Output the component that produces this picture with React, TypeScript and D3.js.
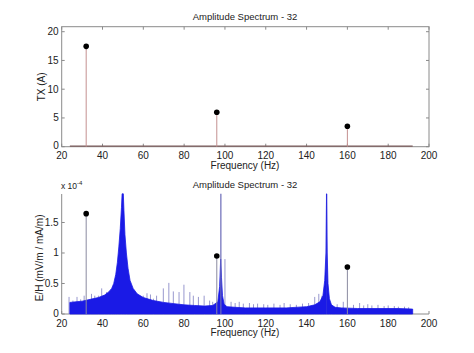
import React from "react";
import * as d3 from "d3";

const W = 474;
const H = 353;

const xTicks = [20, 40, 60, 80, 100, 120, 140, 160, 180, 200];
const txTicks = [0, 5, 10, 15, 20];
const ehTicks = [0, 0.5, 1, 1.5];
const ehTickLabels = ["0", "0.5", "1", "1.5"];

// Top: transmitter current stems
const txFreq = [32, 96, 160];
const txAmp = [17.45, 6.0, 3.55];

// Bottom: E/H ratio at transmitted frequencies (x 1e-4)
const ehFreq = [32, 96, 160];
const ehAmp = [1.645, 0.95, 0.77];

// Dense noise spectrum: envelope of the blue band (x 1e-4)
const noiseFreq = [24, 27, 30, 34, 38, 41, 43, 44.5, 45.5, 46.5, 47.3, 48, 48.7, 49.3, 49.6, 50.2, 50.5, 51, 51.7, 52.5, 53.5, 55, 57, 60, 65, 70, 75, 80, 85, 90, 94, 96.5, 97.4, 97.9, 98.3, 98.8, 99.6, 101, 105, 110, 120, 130, 140, 144, 146.5, 148, 148.9, 149.5, 149.8, 150.1, 150.5, 151.2, 152.2, 154, 157, 165, 175, 185, 192];
const noiseAmp = [0.19, 0.2, 0.21, 0.24, 0.27, 0.31, 0.36, 0.42, 0.5, 0.65, 0.85, 1.1, 1.4, 1.75, 1.97, 1.97, 1.7, 1.3, 1.0, 0.75, 0.55, 0.42, 0.33, 0.27, 0.22, 0.19, 0.17, 0.15, 0.14, 0.13, 0.14, 0.2, 0.45, 0.9, 0.6, 0.3, 0.16, 0.12, 0.11, 0.1, 0.1, 0.1, 0.12, 0.15, 0.2, 0.3, 0.55, 1.0, 1.97, 1.0, 0.5, 0.25, 0.15, 0.11, 0.1, 0.09, 0.09, 0.09, 0.08];

// Isolated light spectral lines (x 1e-4)
const spikeFreq = [23.6, 25.5, 27.5, 29.3, 31, 34.6, 36.2, 38, 39.6, 42, 43.5, 56, 58, 60, 61.8, 63.5, 65, 66.5, 69.8, 72.5, 74.7, 77.5, 79.9, 82.8, 84.5, 87, 89.8, 92.5, 94, 100, 103, 105, 107, 109, 112, 114, 116, 119, 121, 124, 127, 129, 132, 135, 138, 141, 144, 146, 147.5, 155, 158, 163, 166, 168, 170, 172, 175, 178, 180, 183, 185, 188, 190];
const spikeAmp = [0.28, 0.22, 0.28, 0.24, 0.3, 0.33, 0.3, 0.3, 0.42, 0.36, 0.33, 0.3, 0.3, 0.3, 0.34, 0.32, 0.25, 0.3, 0.42, 0.51, 0.37, 0.36, 0.48, 0.36, 0.3, 0.28, 0.3, 0.22, 0.2, 0.9, 0.2, 0.18, 0.2, 0.17, 0.18, 0.16, 0.17, 0.16, 0.15, 0.17, 0.15, 0.18, 0.16, 0.15, 0.17, 0.18, 0.28, 0.33, 0.3, 0.16, 0.2, 0.15, 0.18, 0.14, 0.16, 0.14, 0.15, 0.13, 0.14, 0.13, 0.12, 0.12, 0.11];

// Strong full-height lines
const bigLineFreq = [98, 149.8];
const bigLineAmp = [1.97, 1.97];

const FONT = "'Liberation Sans', Arial, sans-serif";
const AXIS = "#8a8a8a";
const TEXT = "#222";

export default function App() {
  const x = d3.scaleLinear().domain([20, 200]).range([61.7, 429]);
  const yTop = d3.scaleLinear().domain([0, 20.87]).range([146.7, 26.7]);
  const yBot = d3.scaleLinear().domain([0, 1.967]).range([314, 194]);

  const area = d3
    .area<number>()
    .x((_, i) => x(noiseFreq[i]))
    .y0(() => yBot(0))
    .y1((d) => yBot(d));

  const tickLen = 3;

  return (
    <svg
      width={W}
      height={H}
      style={{ position: "absolute", left: 0, top: 0, background: "#fff" }}
      fontFamily={FONT}
    >
      <rect width={W} height={H} fill="#fff" />

      {/* ---------- TOP PANEL ---------- */}
      <text x={245} y={20} fontSize={9.5} textAnchor="middle" fill={TEXT}>
        Amplitude Spectrum - 32
      </text>
      <rect
        x={x(20)}
        y={yTop(20.87)}
        width={x(200) - x(20)}
        height={yTop(0) - yTop(20.87)}
        fill="none"
        stroke={AXIS}
        strokeWidth={1}
      />
      {xTicks.map((t) => (
        <g key={"tt" + t}>
          <line x1={x(t)} x2={x(t)} y1={yTop(0)} y2={yTop(0) - tickLen} stroke={AXIS} />
          <line x1={x(t)} x2={x(t)} y1={yTop(20.87)} y2={yTop(20.87) + tickLen} stroke={AXIS} />
          <text x={x(t)} y={yTop(0) + 12.5} fontSize={10} textAnchor="middle" fill={TEXT}>
            {t}
          </text>
        </g>
      ))}
      {txTicks.map((t) => (
        <g key={"ty" + t}>
          <line x1={x(20)} x2={x(20) + tickLen} y1={yTop(t)} y2={yTop(t)} stroke={AXIS} />
          <line x1={x(200)} x2={x(200) - tickLen} y1={yTop(t)} y2={yTop(t)} stroke={AXIS} />
          <text x={x(20) - 3} y={yTop(t) + (t === 0 ? 2.5 : 3.5)} fontSize={10} textAnchor="end" fill={TEXT}>
            {t}
          </text>
        </g>
      ))}
      <text x={245} y={169} fontSize={10} textAnchor="middle" fill={TEXT}>
        Frequency (Hz)
      </text>
      <text
        transform={`translate(45, ${yTop(10.4)}) rotate(-90)`}
        fontSize={10}
        textAnchor="middle"
        fill={TEXT}
      >
        TX (A)
      </text>
      {/* zero line of the transmitted spectrum */}
      <line x1={x(24)} x2={x(192)} y1={yTop(0) - 0.5} y2={yTop(0) - 0.5} stroke="#7a5a5a" strokeWidth={1.2} />
      {txFreq.map((f, i) => (
        <g key={"ts" + f}>
          <line x1={x(f)} x2={x(f)} y1={yTop(0)} y2={yTop(txAmp[i])} stroke="#c49090" strokeWidth={1} />
          <circle cx={x(f)} cy={yTop(txAmp[i])} r={2.8} fill="#000" />
        </g>
      ))}

      {/* ---------- BOTTOM PANEL ---------- */}
      <text x={245} y={188} fontSize={9.5} textAnchor="middle" fill={TEXT}>
        Amplitude Spectrum - 32
      </text>
      <text x={61} y={189} fontSize={8.5} fill={TEXT}>
        x 10
        <tspan dy={-4} fontSize={6}>
          -4
        </tspan>
      </text>
      <line x1={x(20)} x2={x(20)} y1={yBot(0)} y2={yBot(1.967)} stroke={AXIS} />
      <line x1={x(20)} x2={x(200)} y1={yBot(0)} y2={yBot(0)} stroke={AXIS} />
      {xTicks.map((t) => (
        <g key={"bt" + t}>
          <line x1={x(t)} x2={x(t)} y1={yBot(0)} y2={yBot(0) - tickLen} stroke={AXIS} />
          <text x={x(t)} y={yBot(0) + 12.5} fontSize={10} textAnchor="middle" fill={TEXT}>
            {t}
          </text>
        </g>
      ))}
      {ehTicks.map((t, i) => (
        <g key={"by" + t}>
          <line x1={x(20)} x2={x(20) + tickLen} y1={yBot(t)} y2={yBot(t)} stroke={AXIS} />
          <text x={x(20) - 3} y={yBot(t) + (t === 0 ? 2.5 : 3.5)} fontSize={10} textAnchor="end" fill={TEXT}>
            {ehTickLabels[i]}
          </text>
        </g>
      ))}
      <text x={245} y={336} fontSize={10} textAnchor="middle" fill={TEXT}>
        Frequency (Hz)
      </text>
      <text
        transform={`translate(43, ${yBot(0.92)}) rotate(-90)`}
        fontSize={10}
        textAnchor="middle"
        fill={TEXT}
      >
        E/H (mV/m / mA/m)
      </text>

      {/* light spectral lines */}
      {spikeFreq.map((f, i) => (
        <line
          key={"sp" + i}
          x1={x(f)}
          x2={x(f)}
          y1={yBot(0)}
          y2={yBot(spikeAmp[i])}
          stroke="#8c8cc8"
          strokeWidth={0.9}
        />
      ))}
      {/* dense noise band */}
      <path d={area(noiseAmp) || ""} fill="#1a1ae6" stroke="#1a1ae6" strokeWidth={0.8} />
      {bigLineFreq.map((f, i) => (
        <line
          key={"bl" + f}
          x1={x(f)}
          x2={x(f)}
          y1={yBot(0)}
          y2={yBot(bigLineAmp[i])}
          stroke={i === 0 ? "#6a6ab8" : "#2a2ae0"}
          strokeWidth={1.2}
        />
      ))}
      {ehFreq.map((f, i) => (
        <g key={"es" + f}>
          <line x1={x(f)} x2={x(f)} y1={yBot(0)} y2={yBot(ehAmp[i])} stroke="#8a8aa0" strokeWidth={1} />
          <circle cx={x(f)} cy={yBot(ehAmp[i])} r={2.8} fill="#000" />
        </g>
      ))}
    </svg>
  );
}
